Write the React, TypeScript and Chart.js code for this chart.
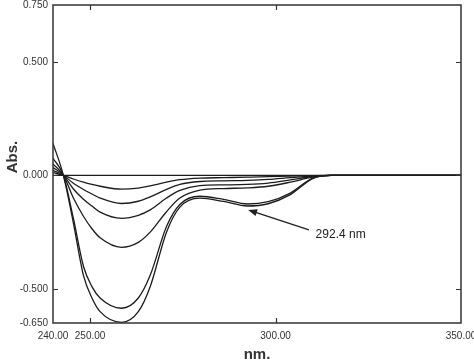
import React, { useEffect, useRef } from "react";
import { Chart, registerables } from "chart.js";

Chart.register(...registerables);

// Wavelengths (nm) at which values were read
const WAVELENGTHS = [240, 242.8, 245.5, 248.2, 250.5, 252.7, 258.5, 263, 266.2, 270.6, 274.2, 279.6, 286, 292.4, 298, 304, 310, 315, 350];

// Absorbance series (difference spectra)
const BASELINE = [0, 0, 0, 0, 0, 0, 0, 0, 0, 0, 0, 0, 0, 0, 0, 0, 0, 0, 0];
const CURVE_1 = [0.012, 0, -0.016, -0.03, -0.04, -0.048, -0.061, -0.056, -0.046, -0.03, -0.019, -0.012, -0.01, -0.008, -0.006, -0.003, -0.001, 0, 0];
const CURVE_2 = [0.022, 0, -0.035, -0.062, -0.082, -0.1, -0.124, -0.114, -0.095, -0.062, -0.04, -0.027, -0.024, -0.022, -0.018, -0.01, -0.003, 0, 0];
const CURVE_3 = [0.035, 0, -0.06, -0.105, -0.135, -0.162, -0.189, -0.176, -0.152, -0.1, -0.066, -0.045, -0.042, -0.04, -0.034, -0.02, -0.005, 0, 0];
const CURVE_4 = [0.05, 0, -0.1, -0.18, -0.235, -0.275, -0.317, -0.295, -0.25, -0.16, -0.1, -0.065, -0.058, -0.055, -0.048, -0.03, -0.008, 0, 0];
const CURVE_5 = [0.075, 0, -0.19, -0.4, -0.49, -0.54, -0.585, -0.54, -0.44, -0.225, -0.128, -0.092, -0.106, -0.126, -0.116, -0.078, -0.012, 0, 0];
const CURVE_6 = [0.141, 0, -0.21, -0.44, -0.54, -0.6, -0.647, -0.6, -0.49, -0.25, -0.14, -0.1, -0.115, -0.135, -0.125, -0.085, -0.014, 0, 0];

const SERIES = [BASELINE, CURVE_1, CURVE_2, CURVE_3, CURVE_4, CURVE_5, CURVE_6];

// Axis ticks
const X_TICKS = [240, 250, 300, 350];
const Y_TICKS = [-0.65, -0.5, 0, 0.5, 0.75];
const X_MARKS = [250, 300];
const Y_MARKS = [-0.5, 0, 0.5];

// Annotation
const ANNOTATION_LABEL = "292.4 nm";
const ANNOTATION_TIP = { x: 292.6, y: -0.152 };
const ANNOTATION_TAIL = { x: 309, y: -0.24 };
const ANNOTATION_TEXT_AT = { x: 310.8, y: -0.262 };

const X_TITLE = "nm.";
const Y_TITLE = "Abs.";

const OFFSET_Y = 20;
const CANVAS_W = 494;
const CANVAS_H = 401;

const framePlugin = {
  id: "frame",
  afterDatasetsDraw(chart: any) {
    const { ctx, chartArea, scales } = chart;
    const { left, right, top, bottom } = chartArea;
    const x = scales.x;
    const y = scales.y;
    ctx.save();
    ctx.strokeStyle = "#333";
    ctx.lineWidth = 1.5;
    ctx.strokeRect(left, top, right - left, bottom - top);
    ctx.lineWidth = 1.2;
    ctx.beginPath();
    for (const v of X_MARKS) {
      const px = Math.round(x.getPixelForValue(v)) + 0.5;
      ctx.moveTo(px, bottom);
      ctx.lineTo(px, bottom - 5);
      ctx.moveTo(px, top);
      ctx.lineTo(px, top + 5);
    }
    for (const v of Y_MARKS) {
      const py = Math.round(y.getPixelForValue(v)) + 0.5;
      ctx.moveTo(left, py);
      ctx.lineTo(left + 5, py);
      ctx.moveTo(right, py);
      ctx.lineTo(right - 5, py);
    }
    ctx.stroke();

    // arrow annotation
    const tx = x.getPixelForValue(ANNOTATION_TIP.x);
    const ty = y.getPixelForValue(ANNOTATION_TIP.y);
    const sx = x.getPixelForValue(ANNOTATION_TAIL.x);
    const sy = y.getPixelForValue(ANNOTATION_TAIL.y);
    const ang = Math.atan2(ty - sy, tx - sx);
    const headLen = 9;
    const headW = 3.5;
    ctx.strokeStyle = "#222";
    ctx.fillStyle = "#222";
    ctx.lineWidth = 1.5;
    ctx.beginPath();
    ctx.moveTo(sx, sy);
    ctx.lineTo(tx - Math.cos(ang) * headLen * 0.8, ty - Math.sin(ang) * headLen * 0.8);
    ctx.stroke();
    ctx.beginPath();
    ctx.moveTo(tx, ty);
    const bx = tx - Math.cos(ang) * headLen;
    const by = ty - Math.sin(ang) * headLen;
    ctx.lineTo(bx + Math.sin(ang) * headW, by - Math.cos(ang) * headW);
    ctx.lineTo(bx - Math.sin(ang) * headW, by + Math.cos(ang) * headW);
    ctx.closePath();
    ctx.fill();

    ctx.font = "12px 'Liberation Sans', Arial, sans-serif";
    ctx.textAlign = "left";
    ctx.textBaseline = "middle";
    ctx.fillStyle = "#222";
    ctx.fillText(
      ANNOTATION_LABEL,
      x.getPixelForValue(ANNOTATION_TEXT_AT.x),
      y.getPixelForValue(ANNOTATION_TEXT_AT.y)
    );

    // axis titles
    ctx.fillStyle = "#333";
    ctx.font = "bold 15px 'Liberation Sans', Arial, sans-serif";
    ctx.textAlign = "center";
    ctx.fillText(X_TITLE, (left + right) / 2, 355 + OFFSET_Y);
    ctx.translate(13, 157 + OFFSET_Y);
    ctx.rotate(-Math.PI / 2);
    ctx.fillText(Y_TITLE, 0, 0);
    ctx.restore();
  },
};

export default function App() {
  const ref = useRef<HTMLCanvasElement | null>(null);

  useEffect(() => {
    if (!ref.current) return;
    const datasets = SERIES.map((s, i) => ({
      label: `s${i}`,
      data: WAVELENGTHS.map((w, j) => ({ x: w, y: s[j] })),
      borderColor: "#1c1c1c",
      borderWidth: 1.3,
      pointRadius: 0,
      fill: false,
      cubicInterpolationMode: "monotone" as const,
    }));
    const chart = new Chart(ref.current, {
      type: "line",
      data: { datasets },
      options: {
        animation: false,
        responsive: false,
        devicePixelRatio: 1,
        layout: { padding: { left: 0, top: 5 + OFFSET_Y, right: CANVAS_W - 461, bottom: 0 } },
        plugins: { legend: { display: false }, tooltip: { enabled: false } },
        scales: {
          x: {
            type: "linear",
            min: 240,
            max: 350,
            grid: { display: false, drawTicks: false },
            border: { display: false },
            afterBuildTicks: (s: any) => {
              s.ticks = X_TICKS.map((v) => ({ value: v }));
            },
            afterFit: (s: any) => {
              s.height = CANVAS_H - (323 + OFFSET_Y);
            },
            ticks: {
              padding: 7,
              maxRotation: 0,
              autoSkip: false,
              color: "#333",
              font: { size: 10, family: "'Liberation Sans', Arial, sans-serif" },
              callback: (v: any) => Number(v).toFixed(2),
            },
          },
          y: {
            type: "linear",
            min: -0.65,
            max: 0.75,
            grid: { display: false, drawTicks: false },
            border: { display: false },
            afterBuildTicks: (s: any) => {
              s.ticks = Y_TICKS.map((v) => ({ value: v }));
            },
            afterFit: (s: any) => {
              s.width = 53;
            },
            ticks: {
              padding: 5,
              autoSkip: false,
              color: "#333",
              font: { size: 10, family: "'Liberation Sans', Arial, sans-serif" },
              callback: (v: any) => Number(v).toFixed(3),
            },
          },
        },
      },
      plugins: [framePlugin],
    });
    return () => chart.destroy();
  }, []);

  return (
    <div style={{ position: "absolute", left: 0, top: 0, width: 474, height: 361, overflow: "hidden", background: "#fff" }}>
      <canvas
        ref={ref}
        width={CANVAS_W}
        height={CANVAS_H}
        style={{ position: "absolute", left: 0, top: -OFFSET_Y, width: CANVAS_W, height: CANVAS_H }}
      />
    </div>
  );
}
